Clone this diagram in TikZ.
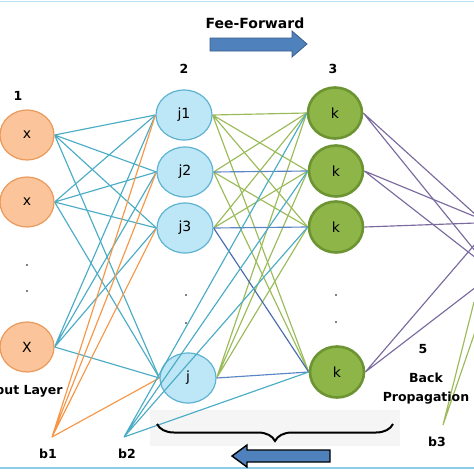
\documentclass[tikz,border=0pt]{standalone}
\usepackage{fontspec}
\setmainfont{DejaVu Sans}
\usetikzlibrary{shapes.geometric,decorations.pathreplacing,backgrounds}
\definecolor{inpfill}{HTML}{FBC49A}
\definecolor{inpline}{HTML}{E99A5C}
\definecolor{hidfill}{HTML}{BDE6F6}
\definecolor{hidline}{HTML}{5EB3D1}
\definecolor{outfill}{HTML}{8DB547}
\definecolor{outline}{HTML}{6C9432}
\definecolor{tealc}{HTML}{4BACC6}
\definecolor{orangec}{HTML}{F79646}
\definecolor{greenc}{HTML}{9BBB59}
\definecolor{bluec}{HTML}{5B86C4}
\definecolor{darkbluec}{HTML}{4A6AAE}
\definecolor{purplec}{HTML}{7A6A9E}
\definecolor{arrowfill}{HTML}{4F81BD}
\definecolor{arrowline}{HTML}{385D8A}
\definecolor{rulec}{HTML}{8CCDE8}
\tikzset{
  inunit/.style={ellipse, draw=inpline, fill=inpfill, line width=1.2pt,
    minimum width=54pt, minimum height=50pt, inner sep=0pt,
    font=\fontsize{14}{16}\selectfont},
  hidunit/.style={ellipse, draw=hidline, fill=hidfill, line width=1.2pt,
    minimum width=56pt, minimum height=50pt, inner sep=0pt,
    font=\fontsize{14}{16}\selectfont},
  outunit/.style={ellipse, draw=outline, fill=outfill, line width=2.6pt,
    minimum width=54pt, minimum height=51pt, inner sep=0pt,
    font=\fontsize{14}{16}\selectfont},
  boldlab/.style={font=\bfseries\fontsize{12.5}{15}\selectfont},
  wire/.style={line width=1.15pt},
  vdot/.style={circle, fill=black, inner sep=0pt, minimum size=1.6pt}
}

\begin{document}
\begin{tikzpicture}[x=1pt,y=-1pt]
  \useasboundingbox (0,0) rectangle (474,474);
  % frame lines
  \draw[rulec!60, line width=1pt] (0,1) -- (474,1);
  \draw[rulec, line width=1.5pt] (0,468) -- (474,468);

  % nodes
  \node[inunit] (x1) at (27,135) {x};
  \node[inunit] (x2) at (27,202) {x};
  \node[inunit] (x3) at (27,347) {X};
  \node[hidunit] (j1) at (184,115) {j1};
  \node[hidunit] (j2) at (185,172) {j2};
  \node[hidunit] (j3) at (185,228) {j3};
  \node[hidunit] (j4) at (188,378) {j};
  \node[outunit] (k1) at (335,113) {k};
  \node[outunit] (k2) at (336,171) {k};
  \node[outunit] (k3) at (336,227) {k};
  \node[outunit] (k4) at (337,372) {k};
  \coordinate (b1c) at (52,437);
  \coordinate (b2c) at (124,437);
  \coordinate (b3c) at (443,425);
  \coordinate (o1) at (476,215);
  \coordinate (o2) at (476,217);
  \coordinate (o3) at (476,223);
  \coordinate (o4) at (476,243);
  \coordinate (o5) at (476,252);
  \coordinate (o6) at (476,258);
  \coordinate (o7) at (476,287);
  \coordinate (o8) at (474,302);
  \coordinate (o9) at (475,332);

  \begin{scope}[on background layer]
  \fill[black!4] (150,410) rectangle (400,446);
  % input -> hidden
  \draw[wire, tealc] (x1.east) -- (j1.west) (x1.east) -- (j2.west)
    (x1.east) -- (j3.west) (x1.east) -- (j4.west);
  \draw[wire, tealc] (x2.east) -- (j1.west) (x2.east) -- (j2.west)
    (x2.east) -- (j3.west) (x2.east) -- (j4.west);
  \draw[wire, tealc] (x3.east) -- (j1.west) (x3.east) -- (j2.west)
    (x3.east) -- (j3.west) (x3.east) -- (j4.west);
  \draw[wire, orangec] (b1c) -- (j1.west) (b1c) -- (j2.west)
    (b1c) -- (j3.west) (b1c) -- (j4.west);

  % hidden -> next
  \draw[wire, greenc] (j1.east) -- (k1.west) (j1.east) -- (k2.west)
    (j1.east) -- (k3.west) (j1.east) -- (k4.west);
  \draw[wire, greenc] (j2.east) -- (k1.west) (j2.east) -- (k3.west)
    (j2.east) -- (k4.west);
  \draw[wire, greenc] (j3.east) -- (k1.west) (j3.east) -- (k2.west);
  \draw[wire, greenc] (j4.east) -- (k1.west) (j4.east) -- (k2.west)
    (j4.east) -- (k3.west);
  \draw[wire, bluec] (j2.east) -- (k2.west) (j3.east) -- (k3.west)
    (j4.east) -- (k4.west);
  \draw[wire, darkbluec] (j3.east) -- (k4.west);

  % to the outputs
  \draw[wire, purplec] (k1.east) -- (o1) (k1.east) -- (o5);
  \draw[wire, purplec] (k2.east) -- (o2) (k2.east) -- (o6);
  \draw[wire, purplec] (k3.east) -- (o3);
  \draw[wire, purplec] (k4.east) -- (o4) (k4.east) -- (o7);
  \draw[wire, greenc] (b3c) -- (o8) (b3c) -- (o9);
  \end{scope}

  \draw[wire, tealc] (b2c) -- (k1.west) (b2c) -- (k2.west)
    (b2c) -- (k3.west) (b2c) -- (k4.west);

  % dots
  \node[vdot] (d1) at (27,265) {};
  \node[vdot] (d2) at (27,291) {};
  \node[vdot] (d3) at (186,295) {};
  \node[vdot] (d4) at (186,323) {};
  \node[vdot] (d5) at (336,295) {};
  \node[vdot] (d6) at (336,322) {};

  % labels
  \node[boldlab] (l1) at (18,96) {1};
  \node[boldlab] (l2) at (184,69) {2};
  \node[boldlab] (l3) at (333,69) {3};
  \node[boldlab] (l5) at (423,349) {5};
  \node[boldlab, anchor=east] (inlab) at (66,391) {Input Layer};
  \node[boldlab, align=center, font=\bfseries\fontsize{12.5}{19}\selectfont] (bplab) at (426,389) {Back\\Propagation};
  \node[boldlab] (lb1) at (48,454) {b1};
  \node[boldlab] (lb2) at (127,454) {b2};
  \node[boldlab] (lb3) at (437,442) {b3};
  \node[font=\bfseries\fontsize{14}{16}\selectfont] (fflab) at (255,23) {Fee-Forward};

  % feed-forward arrow
  \filldraw[fill=arrowfill, draw=arrowline, line width=0.8pt]
    (210,38) -- (292,38) -- (292,31) -- (307,44) -- (292,57) -- (292,51) -- (210,51) -- cycle;

  % backward brace and arrow
  \draw[line width=2pt, decoration={brace, mirror, amplitude=17pt}, decorate]
    (157,424) -- (393,424);
  \filldraw[fill=arrowfill, draw=black, line width=1.4pt]
    (330,450) -- (247,450) -- (247,445) -- (232,456) -- (247,467) -- (247,462) -- (330,462) -- cycle;
\end{tikzpicture}
\end{document}
